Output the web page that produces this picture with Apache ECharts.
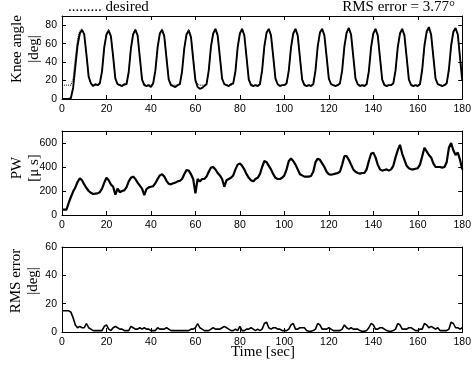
<!DOCTYPE html>
<html>
<head>
<meta charset="utf-8">
<script src="https://cdn.jsdelivr.net/npm/echarts@6/dist/echarts.min.js"></script>
<style>
html,body{margin:0;padding:0;background:#fff;}
#c{width:474px;height:369px;}
</style>
</head>
<body>
<div id="c"></div>
<script>
// time samples, 1 s apart, 0..180 s
const timeStart = 0;
const timeStep = 1;

// Knee angle [deg], measured (solid)
const kneeAngle = [
  0, 0, 0, 0, 1, 12, 35, 58, 71, 75, 70, 48, 24, 17, 14, 16, 15,
  17, 30, 56, 70, 74, 68, 46, 22, 16, 15, 14, 16,
  16, 29, 55, 70, 75, 69, 45, 21, 15, 14, 15, 13,
  17, 31, 56, 71, 75, 68, 44, 21, 15, 14, 13, 15,
  16, 30, 55, 70, 74, 67, 43, 20, 13, 11, 12, 14,
  16, 31, 57, 71, 76, 69, 46, 22, 16, 15, 14, 16,
  17, 30, 56, 71, 76, 69, 45, 21, 15, 14, 15, 14,
  16, 31, 57, 72, 76, 69, 46, 22, 16, 14, 15, 15,
  17, 31, 56, 71, 76, 69, 45, 21, 15, 14, 15, 14,
  16, 31, 57, 72, 76, 69, 46, 22, 16, 15, 14, 15,
  17, 31, 57, 72, 77, 70, 46, 22, 16, 14, 15, 14,
  16, 30, 56, 71, 76, 69, 45, 21, 15, 14, 15, 15,
  17, 31, 56, 71, 76, 69, 45, 21, 15, 14, 15, 14,
  16, 32, 58, 73, 78, 70, 46, 22, 16, 15, 14, 15,
  17, 32, 58, 73, 77, 70, 45, 20
];

// Knee angle [deg], desired (dotted)
const kneeDesired = [
  15, 15, 15, 15, 15, 22, 45, 65, 74, 76, 70, 48, 24, 16, 15, 15, 15,
  16, 30, 56, 71, 76, 69, 46, 22, 16, 15, 15, 15,
  16, 30, 56, 71, 76, 69, 46, 22, 16, 15, 15, 15,
  16, 30, 56, 71, 76, 69, 46, 22, 16, 15, 15, 15,
  16, 30, 56, 71, 76, 69, 46, 22, 16, 15, 15, 15,
  16, 30, 56, 71, 76, 69, 46, 22, 16, 15, 15, 15,
  16, 30, 56, 71, 76, 69, 46, 22, 16, 15, 15, 15,
  16, 30, 56, 71, 76, 69, 46, 22, 16, 15, 15, 15,
  16, 30, 56, 71, 76, 69, 46, 22, 16, 15, 15, 15,
  16, 30, 56, 71, 76, 69, 46, 22, 16, 15, 15, 15,
  16, 30, 56, 71, 76, 69, 46, 22, 16, 15, 15, 15,
  16, 30, 56, 71, 76, 69, 46, 22, 16, 15, 15, 15,
  16, 30, 56, 71, 76, 69, 46, 22, 16, 15, 15, 15,
  16, 30, 56, 71, 76, 69, 46, 22, 16, 15, 15, 15,
  16, 30, 56, 71, 76, 69, 46, 22
];

// Pulse width [µs]
const pulseWidth = [
  45, 45, 45, 100, 150, 195, 230, 275, 305, 290, 255,
  225, 200, 185, 175, 178, 180, 190, 220, 270, 310,
  290, 255, 235, 170, 220, 190, 200, 205, 230, 280,
  310, 320, 300, 270, 245, 220, 165, 215, 230, 235,
  240, 265, 300, 330, 340, 320, 285, 260, 255, 265,
  270, 280, 285, 300, 340, 375, 370, 340, 300, 180,
  300, 280, 300, 300, 320, 360, 395, 400, 380, 350,
  330, 300, 235, 290, 300, 310, 330, 380, 420, 430,
  410, 380, 340, 310, 290, 280, 300, 310, 340, 400,
  450, 440, 410, 380, 340, 310, 300, 300, 310, 330,
  380, 450, 470, 450, 420, 380, 340, 330, 320, 320,
  320, 325, 360, 440, 470, 460, 430, 400, 360, 340,
  335, 340, 345, 350, 360, 420, 490, 490, 460, 420,
  380, 360, 350, 345, 350, 350, 380, 450, 510, 520,
  480, 420, 380, 370, 375, 380, 370, 380, 410, 480,
  540, 585, 510, 460, 410, 390, 380, 380, 385, 390,
  420, 490, 560, 530, 500, 480, 430, 400, 400, 400,
  395, 400, 440, 560, 600, 540, 500, 520, 460, 380
];

// RMS error [deg]
const rmsError = [
  15, 15, 15, 15, 14, 10, 5, 3, 4, 3, 3,
  6, 3, 2, 1, 1, 1, 1, 1, 4, 5,
  2, 1, 3, 4, 3, 2, 2, 1, 1, 1,
  4, 3, 2, 2, 3, 2, 3, 2, 2, 1,
  1, 1, 3, 2, 2, 2, 3, 2, 1, 1,
  1, 1, 1, 1, 1, 1, 1, 2, 2, 3,
  6, 3, 2, 1, 1, 1, 2, 3, 2, 2,
  2, 3, 4, 3, 2, 1, 1, 2, 1, 4,
  1, 1, 2, 2, 3, 2, 1, 2, 1, 2,
  6, 7, 3, 2, 3, 3, 2, 2, 1, 1,
  1, 2, 5, 6, 2, 2, 3, 3, 3, 1,
  0.5, 0.5, 1, 2, 6, 5, 2, 2, 2, 3,
  2, 1, 1, 1, 1, 2, 5, 3, 2, 3,
  2, 2, 2, 1, 0.5, 0.5, 1, 3, 6, 5,
  2, 2, 3, 3, 2, 1, 0.5, 0.5, 1, 2,
  6, 5, 2, 2, 2, 3, 3, 2, 1, 1,
  2, 2, 6, 5, 3, 4, 3, 2, 3, 1,
  1, 1, 1, 2, 7, 6, 3, 3, 2, 3
];

// axis ranges / ticks
const xRange = [0, 180], xTickStep = 20;
const kneeRange = [0, 90], kneeTickStep = 20;
const pwRange = [0, 700], pwTickStep = 200;
const rmsRange = [0, 60], rmsTickStep = 20;

const titleLeft = '......... desired';
const titleRight = 'RMS error = 3.77°';
const yLabels = ['Knee angle\n|deg|', 'PW\n[μ s]', 'RMS error\n|deg|'];
const xLabel = 'Time [sec]';

const pairs = arr => arr.map((v, i) => [timeStart + i * timeStep, v]);

const sans = 'Liberation Sans, Arial, sans-serif';
const serif = 'Liberation Serif, Times New Roman, serif';
const black = '#000';

const grids = [
  {left: 62, right: 10, top: 16, height: 83},
  {left: 62, right: 10, top: 131, height: 84},
  {left: 62, right: 10, top: 247, height: 85}
];
const yRanges = [kneeRange, pwRange, rmsRange];
const ySteps = [kneeTickStep, pwTickStep, rmsTickStep];

const xAxes = [], yAxes = [];
grids.forEach((g, i) => {
  const common = {
    type: 'value', gridIndex: i, min: xRange[0], max: xRange[1], interval: xTickStep,
    axisLine: {show: true, onZero: false, lineStyle: {color: black, width: 1}},
    axisTick: {show: true, inside: true, length: 4, lineStyle: {color: black}},
    splitLine: {show: false}
  };
  xAxes.push(Object.assign({}, common, {
    position: 'bottom',
    axisLabel: {show: true, color: black, fontFamily: sans, fontSize: 10.5, margin: 5}
  }));
  xAxes.push(Object.assign({}, common, {
    position: 'top',
    axisLabel: {show: false}
  }));
  const step = ySteps[i];
  const yc = {
    type: 'value', gridIndex: i, min: yRanges[i][0], max: yRanges[i][1], interval: step,
    axisLine: {show: true, onZero: false, lineStyle: {color: black, width: 1}},
    axisTick: {show: true, inside: true, length: 4, lineStyle: {color: black}},
    splitLine: {show: false}
  };
  yAxes.push(Object.assign({}, yc, {
    position: 'left',
    axisLabel: {show: true, color: black, fontFamily: sans, fontSize: 10.5, margin: 5,
      formatter: v => (v % step === 0 ? String(v) : '')}
  }));
  yAxes.push(Object.assign({}, yc, {
    position: 'right',
    axisLabel: {show: false}
  }));
});

const lineSeries = (data, gi, width, type) => ({
  type: 'line', xAxisIndex: gi * 2, yAxisIndex: gi * 2, data: pairs(data),
  showSymbol: false, symbol: 'none', smooth: false,
  lineStyle: {color: black, width: width, type: type || 'solid'},
  silent: true
});

const yLabelPos = [[26, 49], [26, 168], [25, 281]];

const option = {
  animation: false,
  backgroundColor: '#fff',
  grid: grids,
  xAxis: xAxes,
  yAxis: yAxes,
  series: [
    lineSeries(kneeDesired, 0, 1, 'dotted'),
    lineSeries(kneeAngle, 0, 1.9),
    lineSeries(pulseWidth, 1, 2.2),
    lineSeries(rmsError, 2, 1.6)
  ],
  graphic: [
    {type: 'text', left: 68, top: 0, style: {text: titleLeft, font: '15px ' + serif, fill: black}},
    {type: 'text', right: 19, top: 0, style: {text: titleRight, font: '15px ' + serif, fill: black}},
    {type: 'text', x: 263, y: 352, style: {text: xLabel, font: '15px ' + serif, fill: black, align: 'center', verticalAlign: 'middle'}}
  ].concat(yLabels.map((t, i) => ({
    type: 'text', x: yLabelPos[i][0], y: yLabelPos[i][1], rotation: Math.PI / 2,
    style: {text: t, font: '15px ' + serif, fill: black, align: 'center', verticalAlign: 'middle', lineHeight: 17}
  })))
};

const chart = echarts.init(document.getElementById('c'), null, {renderer: 'canvas'});
chart.setOption(option);
</script>
</body>
</html>
